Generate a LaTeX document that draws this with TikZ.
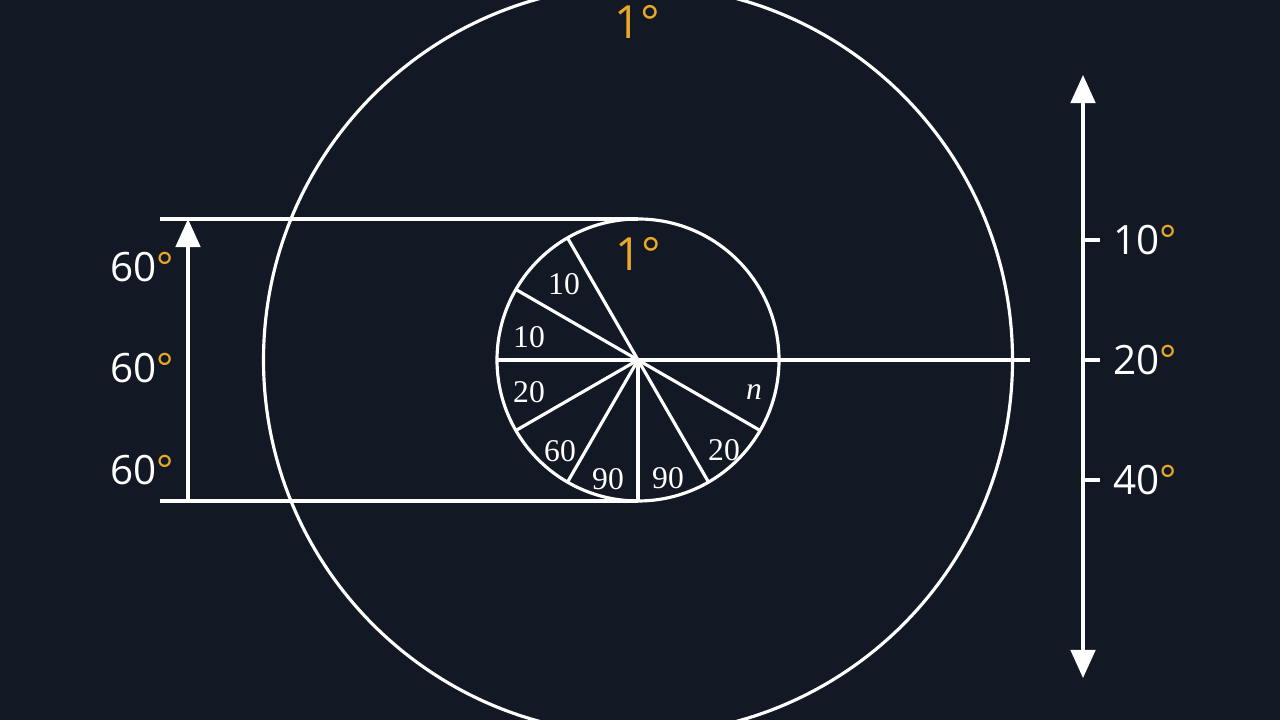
\documentclass[tikz,border=0pt]{standalone}
\usepackage{fontspec}
\setmainfont{Open Sans}
\newfontfamily\innerfont{Liberation Serif}
\usetikzlibrary{
	arrows.meta,
	positioning
}
\definecolor{bgnavy}{RGB}{19,25,36}
\definecolor{degorange}{RGB}{232,168,40}

\begin{document}
\begin{tikzpicture}[>={Triangle[width=7pt,length=8pt]}, line width=0.9pt, white,
	ring/.style={draw=white, circle, inner sep=0pt, outer sep=0pt},
	lbl/.style={text=white, font=\fontsize{11.5}{13}\selectfont, inner sep=1pt},
	seclbl/.style={text=white, font=\innerfont\fontsize{9}{10}\selectfont, inner sep=0pt},
	deglbl/.style={text=degorange, font=\fontsize{13}{15}\selectfont, inner sep=0pt}]
		\def\deg{\textcolor{degorange}{°}}
		\useasboundingbox (0,0) rectangle (12.8,7.2);
		\fill[bgnavy] (0,0) rectangle (12.8,7.2);
		\clip (0,0) rectangle (12.8,7.2);
		
		\coordinate (c) at (6.38,3.60);
		\node[ring, minimum size=7.49cm] (outer) at (c) {};
		\node[ring, minimum size=2.82cm] (inner) at (c) {};
		
		% spokes
		\foreach \a in {120,150,180,210,240,270,300,330}
		\draw (c) -- (inner.\a);
		\coordinate (hend) at (10.30,3.60);
		\draw (c) -- (hend);
		
		% tangent lines and left arrow
		\coordinate (tl) at (1.60,0 |- inner.north);
		\coordinate (bl) at (1.60,0 |- inner.south);
		\draw (tl) -- (inner.north);
		\draw (bl) -- (inner.south);
		\coordinate (la1) at (1.88,0 |- bl);
		\coordinate (la2) at (1.88,0 |- tl);
		\draw[->] (la1) -- (la2);
		
		\node[lbl, anchor=east] (l1) at (1.79,4.53) {60\deg};
		\node[lbl, anchor=east] (l2) at (1.79,3.52) {60\deg};
		\node[lbl, anchor=east] (l3) at (1.79,2.50) {60\deg};
		
		% right scale
		\coordinate (ra1) at (10.83,6.45);
		\coordinate (ra2) at (10.83,0.42);
		\draw[<->] (ra2) -- (ra1);
		\foreach \y/\t [count=\i] in {4.80/10,3.60/20,2.40/40}{
			\coordinate (tk\i) at (10.83,\y);
			\draw (tk\i) -- ++(0.17,0) node[lbl, anchor=west, xshift=0.08cm] (r\i) {\t\deg};
		}
		
		% sector labels
		\node[deglbl] (top) at (6.37,6.98) {1°};
		\node[deglbl] (d1) at (6.38,4.66) {1°};
		\node[seclbl] (s1) at (5.64,4.36) {10};
		\node[seclbl] (s2) at (5.29,3.83) {10};
		\node[seclbl] (s3) at (5.29,3.28) {20};
		\node[seclbl] (s4) at (5.60,2.69) {60};
		\node[seclbl] (s5) at (6.08,2.41) {90};
		\node[seclbl] (s6) at (6.68,2.42) {90};
		\node[seclbl] (s7) at (7.24,2.70) {20};
		\node[seclbl] (s8) at (7.54,3.28) {\textit{n}};
		
	\end{tikzpicture}
\end{document}
